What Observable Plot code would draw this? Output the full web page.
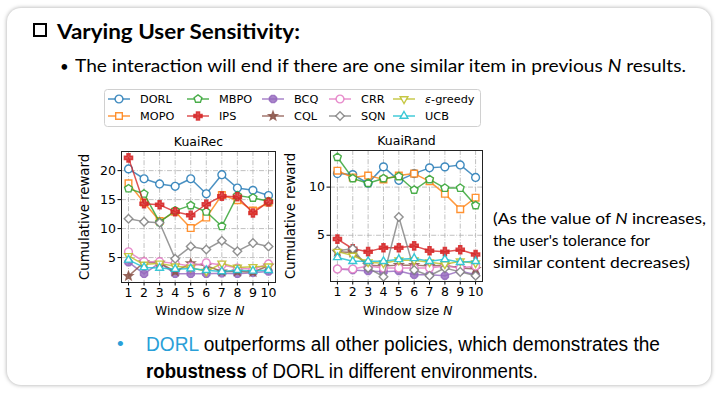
<!DOCTYPE html>
<html><head><meta charset="utf-8">
<script src="https://cdn.jsdelivr.net/npm/d3@7"></script>
<script src="https://cdn.jsdelivr.net/npm/@observablehq/plot@0.6"></script>
<style>
body{margin:0;background:#fff;}
#page{position:relative;width:720px;height:397px;overflow:hidden;background:#fff;}
#card{position:absolute;left:7px;top:8px;width:704px;height:377px;background:#fff;border-radius:14px;box-shadow:0 0 4px rgba(0,0,0,0.35);}
.abs{position:absolute;white-space:nowrap;transform-origin:0 50%;}
.slide{font-family:Lato,"Noto Sans",sans-serif;color:#000;}
.mpl{font-family:"DejaVu Sans",sans-serif;font-size:12px;color:#000;}
.arial{font-family:"Liberation Sans",Arial,sans-serif;color:#000;}
.chart{position:absolute;}
.chart svg{background:transparent;overflow:visible;}
</style></head>
<body><div id="page"><div id="card"></div></div>
<script>
// ---------------- data ----------------
const windowSizes = [1,2,3,4,5,6,7,8,9,10];
const policies = ["DORL","MOPO","MBPO","IPS","BCQ","CQL","CRR","SQN","ε-greedy","UCB"];
const policyColors = ["#1f77b4","#ff7f0e","#2ca02c","#d62728","#9467bd","#8c564b","#e377c2","#7f7f7f","#bcbd22","#17becf"];
// rows follow the order of `policies`, columns follow windowSizes
const kuaiRecValues = [
  [20.3,18.6,17.7,17.3,18.6,16.0,19.3,17.0,16.6,15.7], // DORL
  [17.8,14.5,11.3,12.9,10.1,11.9,15.8,14.9,13.1,14.5], // MOPO
  [16.9,16.0,11.1,13.1,14.0,12.9,10.4,15.7,15.3,14.7], // MBPO
  [22.2,14.3,14.1,12.9,12.3,14.2,15.6,15.5,12.7,14.6], // IPS
  [4.2,2.2,4.1,2.2,2.2,2.2,2.3,2.2,2.4,2.6],           // BCQ
  [1.8,4.2,4.1,2.6,4.0,3.6,2.6,2.6,2.5,3.6],           // CQL
  [6.0,4.3,4.3,4.0,3.5,4.1,3.7,3.2,3.0,3.9],           // CRR
  [11.7,11.2,11.0,4.8,6.9,6.4,7.9,6.1,7.5,6.9],        // SQN
  [5.3,3.8,4.0,3.5,3.3,2.6,4.0,3.3,3.4,3.5],           // ε-greedy
  [4.6,3.3,3.2,3.0,3.1,2.8,2.6,2.8,2.7,2.8]            // UCB
];
const kuaiRandValues = [
  [11.4,11.3,10.4,12.1,10.7,11.4,12.0,12.1,12.3,11.0], // DORL
  [11.7,11.0,11.2,10.8,11.2,11.4,10.6,9.3,7.7,8.9],    // MOPO
  [13.1,10.9,10.4,10.9,11.1,9.7,10.8,9.9,9.9,8.1],     // MBPO
  [4.6,3.6,3.3,3.7,3.7,3.9,3.4,3.3,3.5,3.0],           // IPS
  [1.5,1.4,1.3,1.2,1.3,0.9,0.9,0.8,1.3,0.9],           // BCQ
  [3.3,3.2,1.9,1.8,1.9,1.9,1.8,1.9,1.6,1.5],           // CQL
  [1.5,1.5,1.8,1.6,1.6,1.6,1.6,1.8,1.6,1.8],           // CRR
  [3.4,3.6,1.6,0.7,6.9,1.4,0.8,1.6,1.2,0.8],           // SQN
  [3.3,2.9,2.2,2.1,2.4,2.4,2.2,2.0,2.3,2.1],           // ε-greedy
  [2.7,2.3,2.3,2.3,2.5,2.6,2.3,2.5,2.2,2.3]            // UCB
];
const kuaiRecTicks = [5,10,15,20];
const kuaiRandTicks = [5,10];

// ---------------- marker shapes ----------------
function poly(n, start, k){
  return {draw(c, s){
    const r = Math.sqrt(s/Math.PI)*k;
    for(let i=0;i<n;i++){const a=start+i*2*Math.PI/n; const x=r*Math.cos(a), y=r*Math.sin(a); i?c.lineTo(x,y):c.moveTo(x,y);}
    c.closePath();
  }};
}
const circleSym = {draw(c,s){const r=Math.sqrt(s/Math.PI); c.moveTo(r,0); c.arc(0,0,r,0,2*Math.PI); c.closePath();}};
const squareSym = {draw(c,s){const r=Math.sqrt(s/Math.PI)*0.85; c.rect(-r,-r,2*r,2*r);}};
const plusSym = {draw(c,s){const r=Math.sqrt(s/Math.PI)*1.05, t=r*0.38;
  c.moveTo(-t,-r);c.lineTo(t,-r);c.lineTo(t,-t);c.lineTo(r,-t);c.lineTo(r,t);c.lineTo(t,t);c.lineTo(t,r);
  c.lineTo(-t,r);c.lineTo(-t,t);c.lineTo(-r,t);c.lineTo(-r,-t);c.lineTo(-t,-t);c.closePath();}};
const starSym = {draw(c,s){const R=Math.sqrt(s/Math.PI)*1.15, q=R*0.42;
  for(let i=0;i<10;i++){const a=-Math.PI/2+i*Math.PI/5, rr=i%2?q:R; const x=rr*Math.cos(a), y=rr*Math.sin(a); i?c.lineTo(x,y):c.moveTo(x,y);} c.closePath();}};
const policySymbols = [circleSym, squareSym, poly(5,-Math.PI/2,1.05), plusSym, poly(8,Math.PI/8,1.0), starSym, circleSym, poly(4,-Math.PI/2,1.1), poly(3,Math.PI/2,1.15), poly(3,-Math.PI/2,1.15)];
const policyFilled = [false,false,false,true,true,true,false,false,false,false];

// ---------------- charts ----------------
function makeChart(values, yDomain, yTicks, title, opts){
  const marks = [
    Plot.gridX(windowSizes, {stroke:"#b0b0b0", strokeOpacity:1, strokeWidth:0.8, strokeDasharray:"5,1.6,1,1.6"}),
    Plot.gridY(yTicks, {stroke:"#b0b0b0", strokeOpacity:1, strokeWidth:0.8, strokeDasharray:"5,1.6,1,1.6"}),
    Plot.axisX(windowSizes, {tickSize:3.5, tickPadding:2, fontSize:12.5, label:null}),
    Plot.axisY(yTicks, {tickSize:3.5, tickPadding:2, fontSize:12.5, label:"Cumulative reward", labelAnchor:"center", labelOffset:opts.labelOffset, labelArrow:false}),
    Plot.text([title], {frameAnchor:"top", dy:-14, fontSize:12.5})
  ];
  policies.forEach((p,i)=>{
    const rows = windowSizes.map((n,j)=>({n, v:values[i][j]}));
    marks.push(Plot.line(rows, {x:"n", y:"v", stroke:policyColors[i], strokeWidth:1.5, strokeOpacity:0.8}));
    marks.push(Plot.dot(rows, {x:"n", y:"v", r:3.9, symbol:policySymbols[i], stroke:policyColors[i], strokeWidth:1.4, strokeOpacity:0.85,
      fill: policyFilled[i] ? policyColors[i] : "#fff", fillOpacity: policyFilled[i] ? 0.8 : 1}));
  });
  marks.push(Plot.frame({stroke:"#222", strokeWidth:1}));
  const svg = Plot.plot({
    width:opts.width, height:opts.height,
    marginLeft:opts.ml, marginRight:opts.mr, marginTop:opts.mt, marginBottom:opts.mb,
    x:{domain:[0.55,10.45]}, y:{domain:yDomain},
    style:{fontFamily:"DejaVu Sans", fontSize:"12.5px", background:"transparent", color:"#000", overflow:"visible"},
    marks
  });
  d3.select(svg).selectAll("text").style("font-size","12.5px").style("font-family","'DejaVu Sans'");
  d3.select(svg).selectAll("g[aria-label='y-axis label'] text").style("font-size","13.3px");
  return svg;
}
const page = document.getElementById("page");
function place(node, left, top, cls){const d=document.createElement("div"); d.className=cls||"chart"; d.style.left=left+"px"; d.style.top=top+"px"; d.appendChild(node); page.appendChild(d); return d;}
place(makeChart(kuaiRecValues,[0.7,23.3],kuaiRecTicks,"KuaiRec",{width:225,height:185,ml:61,mr:10,mt:26,mb:28,labelOffset:42}),60,125);
place(makeChart(kuaiRandValues,[0.2,13.8],kuaiRandTicks,"KuaiRand",{width:222,height:185,ml:60,mr:10,mt:25,mb:29,labelOffset:45}),270,125);

// ---------------- legend ----------------
const leg = d3.create("svg").attr("width",378).attr("height",39).style("overflow","visible");
leg.append("rect").attr("x",0.5).attr("y",0.5).attr("width",376).attr("height",37).attr("rx",3).attr("fill","#fff").attr("stroke","#d0d0d0");
const colX = [4, 83, 158, 225, 289];
policies.forEach((p,i)=>{
  const col=Math.floor(i/2), row=i%2;
  const x0=colX[col], y=10+row*17;
  const g=leg.append("g");
  g.append("line").attr("x1",x0).attr("x2",x0+22).attr("y1",y).attr("y2",y).attr("stroke",policyColors[i]).attr("stroke-width",1.5).attr("stroke-opacity",0.8);
  g.append("path").attr("transform",`translate(${x0+11},${y})`).attr("d",d3.symbol(policySymbols[i], Math.PI*3.9*3.9)())
    .attr("stroke",policyColors[i]).attr("stroke-width",1.4).attr("stroke-opacity",0.85)
    .attr("fill",policyFilled[i]?policyColors[i]:"#fff").attr("fill-opacity",policyFilled[i]?0.8:1);
  const t=g.append("text").attr("x",x0+32).attr("y",y).attr("dy","0.36em").attr("font-family","DejaVu Sans").attr("font-size",11.3);
  if(p==="ε-greedy"){t.append("tspan").attr("font-style","italic").text("ε"); t.append("tspan").text("-greedy");}
  else t.text(p);
});
place(leg.node(),104,89);

// ---------------- text ----------------
function addText(html, left, cy, cls, size, target, weight){
  const d=document.createElement("div"); d.className="abs "+cls; d.innerHTML=html;
  d.style.left=left+"px"; d.style.fontSize=size+"px"; d.style.lineHeight=size*1.2+"px";
  d.style.top=(cy-size*0.6)+"px"; if(weight) d.style.fontWeight=weight;
  page.appendChild(d);
  if(target){const w=d.getBoundingClientRect().width; d.style.transform=`scaleX(${target/w})`;}
  return d;
}
const box=document.createElement("div"); box.style.cssText="position:absolute;left:33px;top:23px;width:10px;height:10px;border:2.8px solid #000;"; page.appendChild(box);
addText("Varying User Sensitivity:",57,31,"slide",21,243,"700");
addText("•",60,66,"slide",15);
addText("The interaction will end if there are one similar item in previous <i>N</i> results.",75,66,"slide",18,611);
addText("Window size <i>N</i>",155,311,"mpl",12.3);
addText("Window size <i>N</i>",363,311,"mpl",12.3);
addText("(As the value of <i>N</i> increases,",493,218,"slide",15,213);
addText("the user's tolerance for",493,240,"slide",15,157);
addText("similar content decreases)",493,262,"slide",15,197);
addText('<span style="color:#2a9fd8">•</span>',117,344,"arial",19);
addText('<span style="color:#2a9fd8">DORL</span> outperforms all other policies, which demonstrates the',146,344,"arial",20,514);
addText('<b>robustness</b> of DORL in different environments.',146,371,"arial",20,392);
</script></body></html>
